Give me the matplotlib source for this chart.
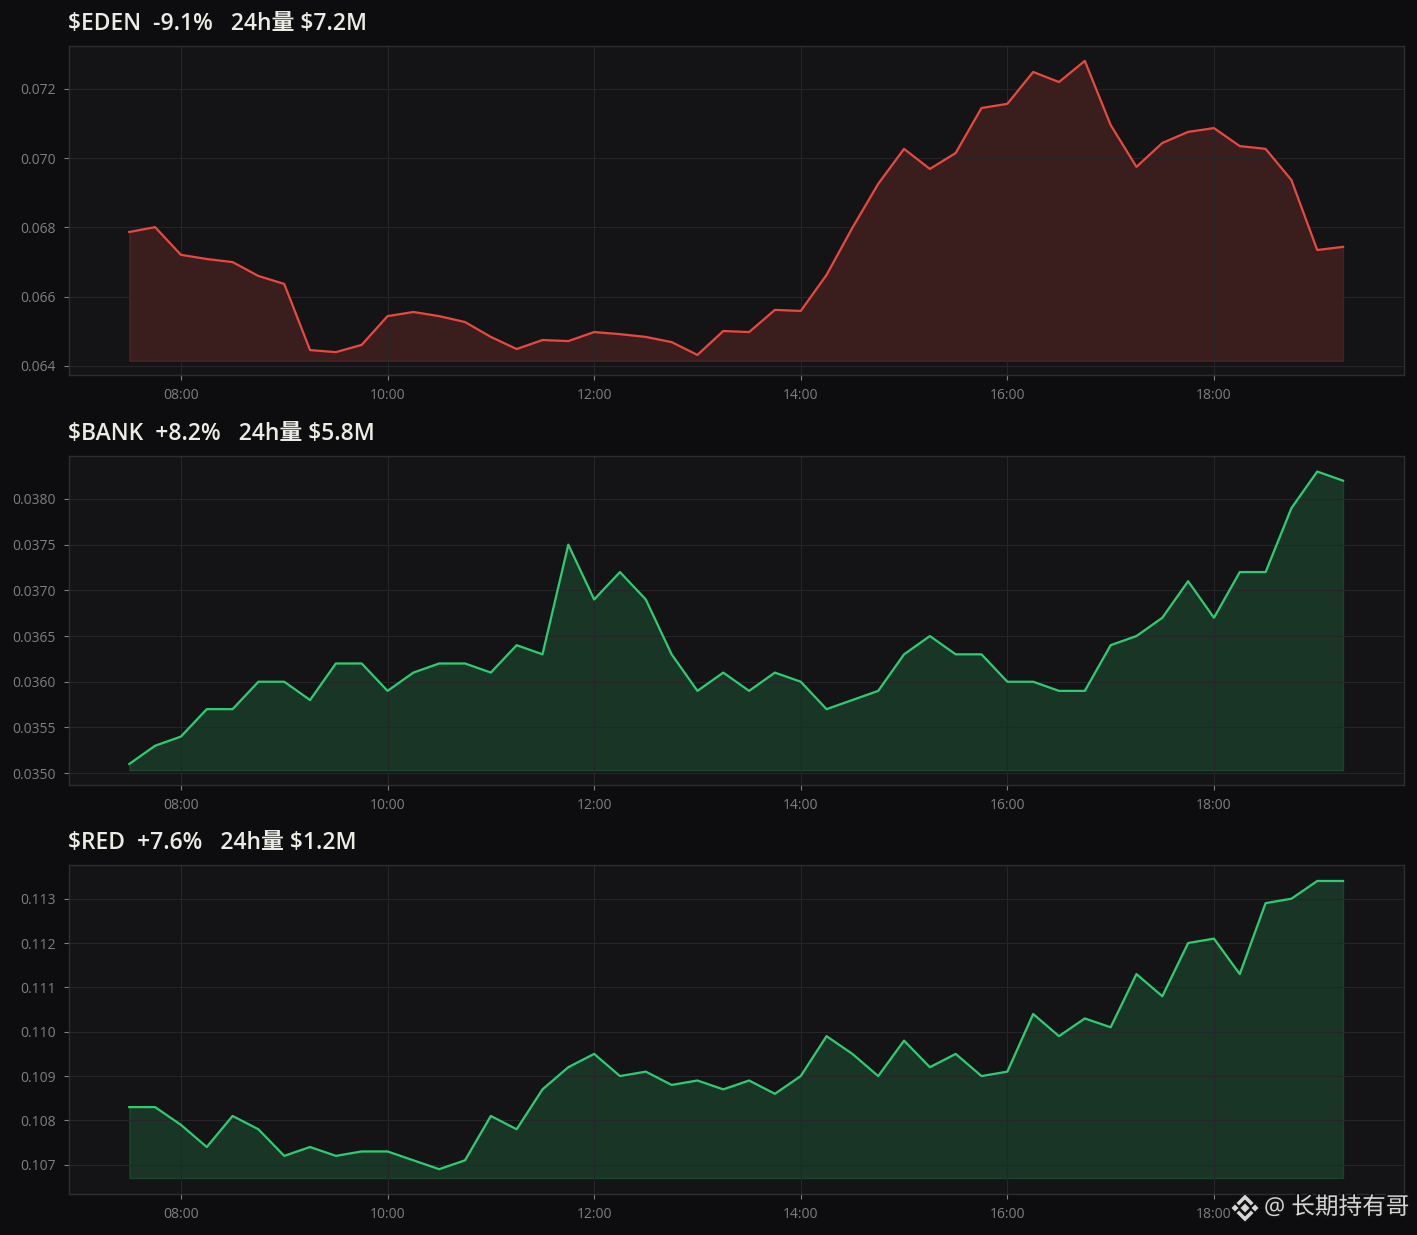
import matplotlib
matplotlib.use('Agg')
import matplotlib.pyplot as plt
import matplotlib.dates as mdates
import matplotlib.patheffects as pe
from matplotlib.patches import Polygon
from matplotlib.ticker import FormatStrFormatter, MultipleLocator
import pandas as pd

plt.rcParams['font.family'] = ['Open Sans', 'Noto Sans CJK SC', 'DejaVu Sans']

W, H = 1417, 1235
BG = '#0d0d0f'
PANEL = '#141416'
RED = '#e8483f'
GREEN = '#2ecc71'

times = pd.date_range('2025-01-01 07:30', periods=48, freq='15min')

eden = [0.06787, 0.06801, 0.06721, 0.06709, 0.06700, 0.06660, 0.06637, 0.06446, 0.06440, 0.06461,
        0.06544, 0.06556, 0.06544, 0.06527, 0.06484, 0.06449, 0.06475, 0.06472, 0.06498, 0.06492,
        0.06484, 0.06469, 0.06432, 0.06501, 0.06498, 0.06562, 0.06559, 0.06663, 0.06799, 0.06926,
        0.07027, 0.06969, 0.07015, 0.07145, 0.07157, 0.07249, 0.07220, 0.07281, 0.07096, 0.06975,
        0.07044, 0.07076, 0.07087, 0.07035, 0.07027, 0.06937, 0.06735, 0.06744]
bank = [0.0351, 0.0353, 0.0354, 0.0357, 0.0357, 0.0360, 0.0360, 0.0358, 0.0362, 0.0362,
        0.0359, 0.0361, 0.0362, 0.0362, 0.0361, 0.0364, 0.0363, 0.0375, 0.0369, 0.0372,
        0.0369, 0.0363, 0.0359, 0.0361, 0.0359, 0.0361, 0.0360, 0.0357, 0.0358, 0.0359,
        0.0363, 0.0365, 0.0363, 0.0363, 0.0360, 0.0360, 0.0359, 0.0359, 0.0364, 0.0365,
        0.0367, 0.0371, 0.0367, 0.0372, 0.0372, 0.0379, 0.0383, 0.0382]
red = [0.1083, 0.1083, 0.1079, 0.1074, 0.1081, 0.1078, 0.1072, 0.1074, 0.1072, 0.1073,
       0.1073, 0.1071, 0.1069, 0.1071, 0.1081, 0.1078, 0.1087, 0.1092, 0.1095, 0.1090,
       0.1091, 0.1088, 0.1089, 0.1087, 0.1089, 0.1086, 0.1090, 0.1099, 0.1095, 0.1090,
       0.1098, 0.1092, 0.1095, 0.1090, 0.1091, 0.1104, 0.1099, 0.1103, 0.1101, 0.1113,
       0.1108, 0.1120, 0.1121, 0.1113, 0.1129, 0.1130, 0.1134, 0.1134]

titles = ['$EDEN  -9.1%   24h量 $7.2M', '$BANK  +8.2%   24h量 $5.8M', '$RED  +7.6%   24h量 $1.2M']
series = [eden, bank, red]
colors = [RED, GREEN, GREEN]
bases = [0.06415, 0.03503, 0.1067]
ylims = [(0.06374, 0.07324), (0.03487, 0.03847), (0.10634, 0.11376)]
ysteps = [0.002, 0.0005, 0.001]
yfmts = ['%.3f', '%.4f', '%.3f']
tops = [46, 456, 865]  # panel top edge in px
panel_h = 329

fig = plt.figure(figsize=(W / 100, H / 100), dpi=100, facecolor=BG)

for vals, title, col, base, ylim, step, fmt, top in zip(series, titles, colors, bases, ylims, ysteps, yfmts, tops):
    ax = fig.add_axes([69 / W, 1 - (top + panel_h) / H, 1335 / W, panel_h / H], facecolor=PANEL)
    ax.fill_between(times, vals, base, color=col, alpha=0.18, linewidth=1)
    ax.plot(times, vals, color=col, linewidth=1.6)
    ax.set_xlim(pd.Timestamp('2025-01-01 06:55'), pd.Timestamp('2025-01-01 19:50:24'))
    ax.set_ylim(*ylim)
    ax.xaxis.set_major_locator(mdates.HourLocator(byhour=range(8, 20, 2)))
    ax.xaxis.set_major_formatter(mdates.DateFormatter('%H:%M'))
    ax.yaxis.set_major_locator(MultipleLocator(step))
    ax.yaxis.set_major_formatter(FormatStrFormatter(fmt))
    ax.grid(True, color='#26262a', linewidth=0.8)
    ax.tick_params(colors='#7f7f7f', labelsize=10, length=3.6, width=0.8, pad=6)
    for sp in ax.spines.values():
        sp.set_color('#2e2e30')
        sp.set_linewidth(1)
    fig.text(68 / W, 1 - (top - 22) / H, title, color='#ececE6', fontsize=16.5,
             fontweight='semibold', va='center', ha='left', parse_math=False)

# watermark, bottom right corner
shadow = [pe.withStroke(linewidth=2.5, foreground='#111111')]
fig.text(1264 / W, 1 - 1208 / H, '@ 长期持有哥', color='#d6d6d6', fontsize=17, va='center', ha='left',
         path_effects=shadow)

logo_shapes = [
    [(0, -5), (5, 0), (0, 5), (-5, 0)],
    [(-14, 0), (-10, -4), (-6, 0), (-10, 4)],
    [(14, 0), (10, -4), (6, 0), (10, 4)],
    [(0, -14), (9, -5), (6, -2), (0, -8), (-6, -2), (-9, -5)],
    [(0, 14), (9, 5), (6, 2), (0, 8), (-6, 2), (-9, 5)],
]
for shape in logo_shapes:
    pts = [((1245 + px) / W, 1 - (1208 + py) / H) for px, py in shape]
    fig.add_artist(Polygon(pts, closed=True, transform=fig.transFigure, facecolor='#d6d6d6',
                           edgecolor='#111111', linewidth=0.5))

fig.savefig('out.png', dpi=100, facecolor=BG)
